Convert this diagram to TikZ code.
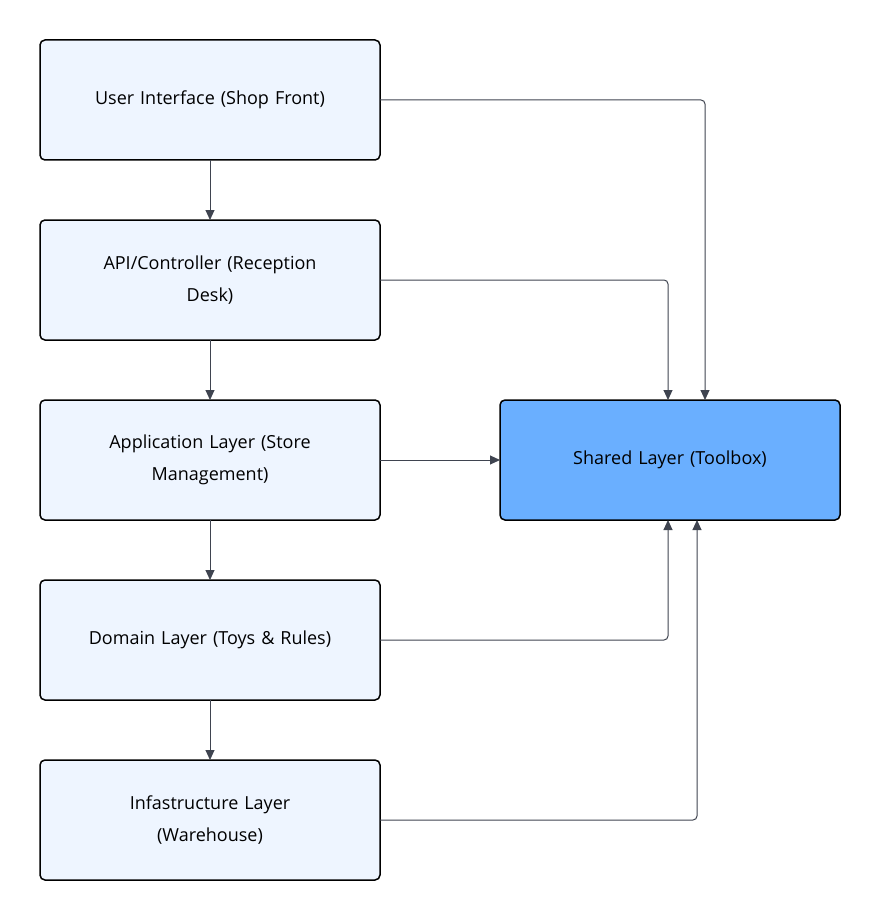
\documentclass[tikz,border=0pt]{standalone}
\usepackage{fontspec}
\setmainfont{Open Sans}
\usetikzlibrary{positioning, arrows.meta}
\definecolor{layerfill}{HTML}{EEF5FF}
\definecolor{sharedfill}{HTML}{6AAFFF}
\definecolor{linkgray}{HTML}{3F4450}
\begin{document}
\begin{tikzpicture}[x=1pt, y=-1pt, >={Triangle[length=10pt,width=9pt]}]
\tikzset{
    box/.style={draw=black, line width=1.5pt, rounded corners=5pt, fill=layerfill,
      minimum width=340pt, minimum height=120pt, align=center, text width=310pt,
      outer sep=0pt, font=\fontsize{18}{32}\selectfont},
    link/.style={draw=linkgray, line width=1pt, ->},
  }
\useasboundingbox (0,0) rectangle (880,920);
\node (ui) [box] at (210,100) {User Interface (Shop Front)};
\node (api) [box, below=60pt of ui] {API/Controller (Reception\\Desk)};
\node (app) [box, below=60pt of api] {Application Layer (Store\\Management)};
\node (domain) [box, below=60pt of app] {Domain Layer (Toys \& Rules)};
\node (infra) [box, below=60pt of domain] {Infastructure Layer\\(Warehouse)};
\node (shared) [box, fill=sharedfill, right=120pt of app] {Shared Layer (Toolbox)};
\draw[link] (ui) -- (api);
\draw[link] (api) -- (app);
\draw[link] (app) -- (domain);
\draw[link] (domain) -- (infra);
\draw[link, rounded corners=4pt] (ui.east) -| ([xshift=35pt]shared.north);
\draw[link, rounded corners=4pt] (api.east) -| ([xshift=-2pt]shared.north);
\draw[link] (app) -- (shared);
\draw[link, rounded corners=4pt] (domain.east) -| ([xshift=-2pt]shared.south);
\draw[link, rounded corners=4pt] (infra.east) -| ([xshift=27pt]shared.south);
\end{tikzpicture}
\end{document}
